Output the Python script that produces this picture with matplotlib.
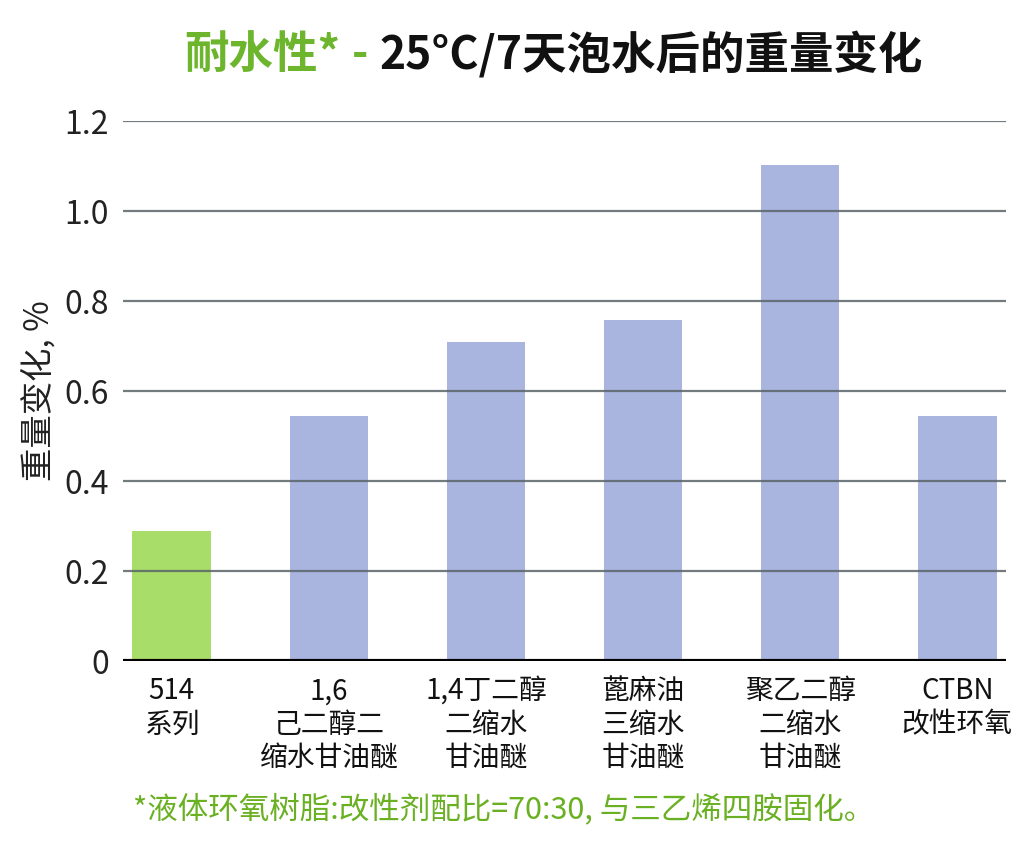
import matplotlib
matplotlib.use("Agg")
import matplotlib.pyplot as plt

plt.rcParams['font.family'] = ['Noto Sans CJK SC', 'DejaVu Sans']

categories = ["514\n系列", "1,6\n己二醇二\n缩水甘油醚", "1,4丁二醇\n二缩水\n甘油醚",
              "蓖麻油\n三缩水\n甘油醚", "聚乙二醇\n二缩水\n甘油醚", "CTBN\n改性环氧"]
values = [0.29, 0.545, 0.708, 0.758, 1.102, 0.545]
yticks = [0, 0.2, 0.4, 0.6, 0.8, 1.0, 1.2]
yticklabels = ["0", "0.2", "0.4", "0.6", "0.8", "1.0", "1.2"]

green = "#a8dd6a"
blue = "#a9b5df"

fig = plt.figure(figsize=(10.30, 8.51), dpi=100)
ax = fig.add_axes([123 / 1030, 1 - 661 / 851, (1006 - 123) / 1030, 540 / 851])

colors = [green] + [blue] * (len(values) - 1)
x = list(range(len(values)))
ax.bar(x, values, width=0.5, color=colors, zorder=1)

ax.set_ylim(0, 1.2)
ax.set_xlim(-0.31, 5.31)
ax.set_yticks(yticks)
ax.set_yticklabels(yticklabels, fontsize=23, color="#222222")
ax.set_xticks(x)
ax.set_xticklabels(categories, fontsize=20, linespacing=1.15, color="#111111")
ax.tick_params(axis='y', length=0, pad=10)
ax.tick_params(axis='x', length=0, pad=11)

for yv in yticks[1:]:
    ax.axhline(yv, color="#5a6469", lw=1.6, alpha=0.85, zorder=2)
ax.axhline(0, color="black", lw=3, zorder=3)

for s in ax.spines.values():
    s.set_visible(False)

ax.set_ylabel("重量变化, %", fontsize=24, color="#222222", labelpad=6)

# title: green part + black part
ty = 1 - 55 / 851
fig.text(184 / 1030, ty, "耐水性*", color="#6cb52d", fontsize=32,
         fontweight='bold', ha='left', va='center')
fig.text(360 / 1030, ty, "-", color="#6cb52d", fontsize=32,
         fontweight='bold', ha='center', va='center')
fig.text(379 / 1030, ty, "25°C/7天泡水后的重量变化", color="#111111", fontsize=32,
         fontweight='bold', ha='left', va='center')

fig.text(133 / 1030, 1 - 809 / 851, "*液体环氧树脂:改性剂配比=70:30, 与三乙烯四胺固化。",
         color="#6ab023", fontsize=22, ha='left', va='center')

fig.savefig("out.png", dpi=100)
